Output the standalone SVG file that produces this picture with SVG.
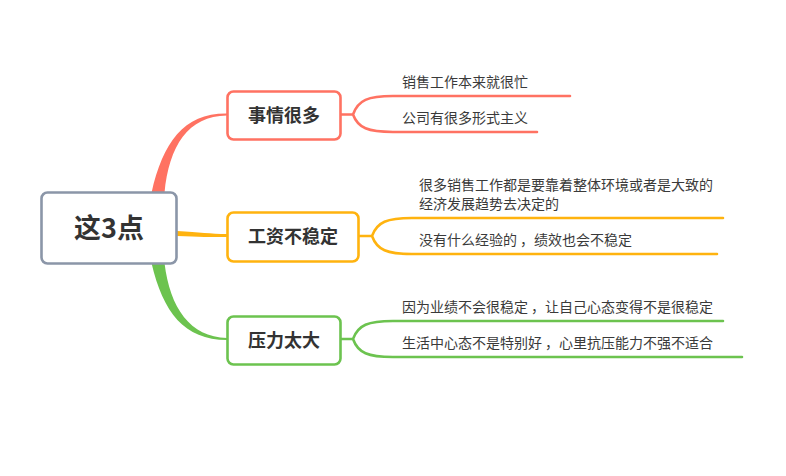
<svg xmlns="http://www.w3.org/2000/svg" width="786" height="476" viewBox="0 0 786 476">
<style>
.box{fill:#fff;stroke-width:2.6}
.nt{font-family:"Noto Sans CJK SC","Noto Sans",sans-serif;font-weight:bold;fill:#333;text-anchor:middle}
.lt{font-family:"Noto Sans CJK SC","Noto Sans",sans-serif;font-size:14px;fill:#3a3a3a}
.sub{fill:none;stroke-width:2.6;stroke-linecap:round}
.red{stroke:#FF7262}.org{stroke:#FFB30F}.grn{stroke:#6CC34F}
</style>
<rect width="786" height="476" fill="#fff"/>
<g id="connectors">
<path d="M151.5,193 C163,142 184,113 227,113.5 L227,115.5 C188,116 169,146 164.5,193 Z" fill="#FF7262"/>
<path d="M151.5,263 C163,312 184,340 227,340 L227,338 C190,337 170,308 164.5,263 Z" fill="#6CC34F"/>
<path d="M177,231 C200,232 210,234 227,234 L227,237 C210,237 200,237 177,236 Z" fill="#FFB30F"/>
<path class="sub red" d="M341,114.5 L353,114.5 M353,114.5 C358,100 368,96 393,96 L570,96 M353,114.5 C358,128 368,132 393,132 L537,132"/>
<path class="sub org" d="M358,236 L372,236 M372,236 C377,222 387,218 412,218 L723,218 M372,236 C377,250 387,254 412,254 L717,254"/>
<path class="sub grn" d="M341,339 L353,339 M353,339 C358,325 368,321 393,321 L723,321 M353,339 C358,353 368,357 393,357 L742,357"/>
</g>
<g id="root">
<rect class="box" x="41.5" y="192.5" width="135" height="71" rx="6" stroke="#8B96A8"/>
<text class="nt" x="109" y="238" font-size="27">这3点</text>
</g>
<g id="node1">
<rect class="box red" x="227.5" y="91.5" width="113" height="48" rx="6"/>
<text class="nt" x="284" y="122" font-size="18">事情很多</text>
</g>
<g id="node2">
<rect class="box org" x="227.5" y="212.5" width="131" height="49" rx="6"/>
<text class="nt" x="293" y="243" font-size="18">工资不稳定</text>
</g>
<g id="node3">
<rect class="box grn" x="227.5" y="316.5" width="113" height="48" rx="6"/>
<text class="nt" x="284" y="347" font-size="18">压力太大</text>
</g>
<g id="leaf1a"><text class="lt" x="402" y="87">销售工作本来就很忙</text></g>
<g id="leaf1b"><text class="lt" x="402" y="123">公司有很多形式主义</text></g>
<g id="leaf2a"><text class="lt" x="419" y="190">很多销售工作都是要靠着整体环境或者是大致的</text><text class="lt" x="419" y="209">经济发展趋势去决定的</text></g>
<g id="leaf2b"><text class="lt" x="419" y="245">没有什么经验的<tspan dx="3">，</tspan>绩效也会不稳定</text></g>
<g id="leaf3a"><text class="lt" x="402" y="312">因为业绩不会很稳定<tspan dx="3">，</tspan>让自己心态变得不是很稳定</text></g>
<g id="leaf3b"><text class="lt" x="402" y="348">生活中心态不是特别好<tspan dx="3">，</tspan>心里抗压能力不强不适合</text></g>
</svg>
